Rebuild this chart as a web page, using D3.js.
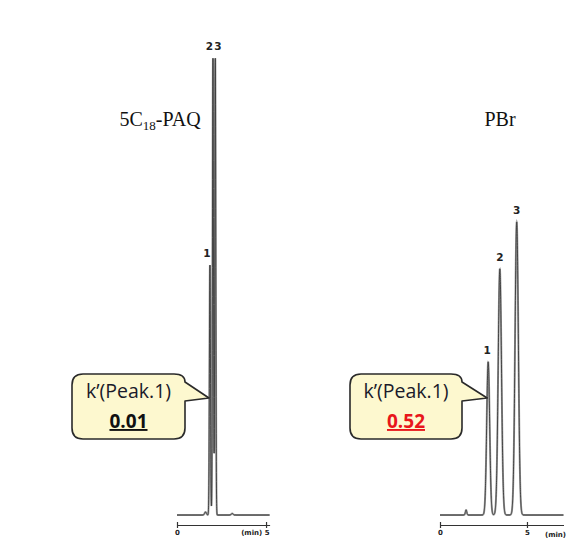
<!DOCTYPE html>
<html><head><meta charset="utf-8">
<script src="https://cdn.jsdelivr.net/npm/d3@7"></script>
<style>body{margin:0;background:#fff}svg{display:block}</style>
</head><body><svg id="c" width="572" height="543"></svg>
<script>
// ---- data ----
const panelNames = ["5C18-PAQ", "PBr"];
// left column (5C18-PAQ): retention time (min), height (signal units), sigma (min)
const paqTimes   = [1.85, 2.02, 2.15];
const paqHeights = [250, 457, 457];
const paqSigmas  = [0.03, 0.028, 0.028];
const paqLabels  = ["1", "2", "3"];
const paqMinor   = [[1.60, 3, 0.05], [3.1, 1.5, 0.05]];
// right column (PBr)
const pbrTimes   = [2.77, 3.44, 4.41];
const pbrHeights = [153, 246, 293];
const pbrSigmas  = [0.085, 0.095, 0.095];
const pbrLabels  = ["1", "2", "3"];
const pbrMinor   = [[1.50, 5, 0.04]];
const kPrime     = ["0.01", "0.52"];
const tickValues = [0, 5];

const svg = d3.select("#c");
const y = d3.scaleLinear().domain([0, 500]).range([515, 15]);

function trace(times, heights, sigmas, minor, tmax) {
  const pk = times.map((t, i) => [t, heights[i], sigmas[i]]).concat(minor);
  const pts = [];
  for (let t = 0; t <= tmax + 1e-9; t += 0.003) {
    let v = 0;
    pk.forEach(([c, h, s]) => { v += h * Math.exp(-0.5 * ((t - c) / s) ** 2); });
    pts.push([t, v]);
  }
  return pts;
}

function panel(cfg) {
  const x = d3.scaleLinear().domain([0, cfg.tmax]).range(cfg.range);
  const g = svg.append("g");
  const pts = trace(cfg.times, cfg.heights, cfg.sigmas, cfg.minor, cfg.tmax);
  const line = d3.line().x(d => x(d[0])).y(d => y(d[1])).curve(d3.curveLinear);
  g.append("path").attr("d", line(pts)).attr("fill", "none")
    .attr("stroke", "#a0a0a0").attr("stroke-width", 2);
  g.append("path").attr("d", line(pts)).attr("fill", "none")
    .attr("stroke", "#3a3a3a").attr("stroke-width", 0.9);
  // peak labels
  cfg.times.forEach((t, i) => {
    g.append("text").attr("x", x(t) + cfg.labelDx[i]).attr("y", y(cfg.heights[i]) - 8)
      .attr("text-anchor", "middle").attr("font-family", "DejaVu Sans, sans-serif")
      .attr("font-weight", "bold").attr("font-size", 10.5).attr("fill", "#222")
      .text(cfg.labels[i]);
  });
  // axis
  const ax = g.append("g").attr("transform", "translate(0,525)")
    .call(d3.axisBottom(x).tickValues(tickValues).tickSizeInner(-4).tickSizeOuter(0)
      .tickPadding(5).tickFormat(d => (d === 5 && cfg.minLeft) ? "(min) 5" : d));
  ax.select(".domain").attr("stroke", "#333").attr("stroke-width", 1.2);
  ax.selectAll(".tick line").attr("stroke", "#333").attr("stroke-width", 1.2)
    .attr("y1", 3).attr("y2", -3);
  ax.selectAll(".tick text").attr("font-family", "DejaVu Sans, sans-serif")
    .attr("font-weight", "bold").attr("font-size", 7).attr("fill", "#222");
  if (cfg.minLeft) {
    ax.selectAll(".tick text").filter(d => d === 5).attr("text-anchor", "end").attr("dx", 3);
  } else {
    g.append("text").attr("x", cfg.range[1] - 8).attr("y", 537).attr("text-anchor", "middle")
      .attr("font-family", "DejaVu Sans, sans-serif").attr("font-weight", "bold")
      .attr("font-size", 7).attr("fill", "#222").text("(min)");
  }
  // name label
  const nl = g.append("text").attr("x", cfg.nameX).attr("y", 126).attr("text-anchor", "middle")
    .attr("font-family", "Liberation Serif, Times New Roman, serif").attr("font-size", 20).attr("fill", "#111");
  if (cfg.sub) {
    nl.append("tspan").text("5C");
    nl.append("tspan").attr("font-size", 13).attr("dy", 4).text("18");
    nl.append("tspan").attr("dy", -4).text("-PAQ");
  } else nl.text(cfg.name);
  // callout
  const bx0 = cfg.box[0], bx1 = cfg.box[1], by0 = 374, by1 = 439, r = 11;
  const tipX = x(cfg.times[0]) - 1, tipY = 398;
  const p = d3.path();
  p.moveTo(bx0 + r, by0);
  p.lineTo(bx1 - r, by0);
  p.quadraticCurveTo(bx1, by0, bx1, by0 + 8);
  p.lineTo(tipX, tipY);
  p.lineTo(bx1, tipY + 3);
  p.lineTo(bx1, by1 - r);
  p.quadraticCurveTo(bx1, by1, bx1 - r, by1);
  p.lineTo(bx0 + r, by1);
  p.quadraticCurveTo(bx0, by1, bx0, by1 - r);
  p.lineTo(bx0, by0 + r);
  p.quadraticCurveTo(bx0, by0, bx0 + r, by0);
  p.closePath();
  g.append("path").attr("d", p.toString()).attr("fill", "#fdf8cf")
    .attr("stroke", "#2a2a2a").attr("stroke-width", 1.6).attr("stroke-linejoin", "round");
  const cx = (bx0 + bx1) / 2;
  g.append("text").attr("x", cx).attr("y", 398).attr("text-anchor", "middle")
    .attr("font-family", "Open Sans, sans-serif").attr("font-size", 19.5).attr("fill", "#1a1a2a")
    .text("k\u2019(Peak.1)");
  g.append("text").attr("x", cx).attr("y", 428).attr("text-anchor", "middle")
    .attr("font-family", "Open Sans, sans-serif").attr("font-weight", "bold").attr("font-size", 19)
    .attr("text-decoration", "underline").attr("fill", cfg.kColor).text(cfg.k);
}

panel({ name: panelNames[0], sub: true, times: paqTimes, heights: paqHeights, sigmas: paqSigmas,
  minor: paqMinor, labels: paqLabels, labelDx: [-3, -3.5, 2.5], tmax: 5.2, range: [177, 269.6],
  minLeft: true, nameX: 160, box: [72, 185], k: kPrime[0], kColor: "#111" });
panel({ name: panelNames[1], sub: false, times: pbrTimes, heights: pbrHeights, sigmas: pbrSigmas,
  minor: pbrMinor, labels: pbrLabels, labelDx: [-1, 0, 0], tmax: 7.1, range: [440, 563.5],
  minLeft: false, nameX: 500, box: [350, 462], k: kPrime[1], kColor: "#e8161b" });
</script></body></html>
